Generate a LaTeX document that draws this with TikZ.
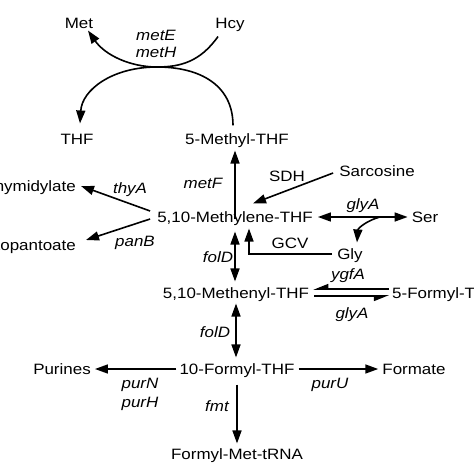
\documentclass[tikz,border=0pt]{standalone}
\usepackage{fontspec}
\setmainfont{Liberation Sans}[FakeStretch=1.13]
\usetikzlibrary{arrows.meta,calc}
\begin{document}
\begin{tikzpicture}[x=1pt,y=-1pt,
  lbl/.style={inner sep=0pt, text height=10.7pt, text depth=0pt, font=\fontsize{15}{18}\selectfont},
  enz/.style={lbl, font=\fontsize{15}{18}\selectfont\itshape},
  arr/.style={line width=1.6pt, -{Triangle[length=13pt,width=9pt]}},
  darr/.style={line width=1.6pt, {Triangle[length=13pt,width=9pt]}-{Triangle[length=13pt,width=9pt]}},
  harp/.style={line width=1.6pt, -{Triangle[length=13pt,width=10pt,harpoon,swap]}},
]
\useasboundingbox (0,0) rectangle (474,474);
\clip (0,0) rectangle (474,474);
\fill[white] (0,0) rectangle (474,474);

\node[lbl] (met) at (79,23) {Met};
\node[lbl] (hcy) at (230,23) {Hcy};
\node[enz] (metE) at (156,35) {metE};
\node[enz] (metH) at (156,52) {metH};
\node[lbl] (thf) at (77,139) {THF};
\node[lbl] (mthf) at (237,139) {5-Methyl-THF};
\node[lbl] (sarc) at (377,171) {Sarcosine};
\node[lbl] (sdh) at (287,176) {SDH};
\node[lbl,anchor=east] (thym) at (76,186) {Thymidylate};
\node[enz] (thyA) at (130,188) {thyA};
\node[enz] (metF) at (203,183) {metF};
\node[lbl] (mlene) at (235,217) {5,10-Methylene-THF};
\node[enz] (glyA1) at (363,204) {glyA};
\node[lbl] (ser) at (425,217) {Ser};
\node[lbl,anchor=east] (keto) at (76,245) {Ketopantoate};
\node[enz] (panB) at (135,241) {panB};
\node[lbl] (gcv) at (290,243) {GCV};
\node[lbl] (gly) at (350,254) {Gly};
\node[enz] (folD1) at (218,257) {folD};
\node[enz] (ygfA) at (348,274) {ygfA};
\node[lbl] (menyl) at (236,293) {5,10-Methenyl-THF};
\node[lbl,anchor=west] (fthf) at (392,293) {5-Formyl-THF};
\node[enz] (glyA2) at (352,313) {glyA};
\node[enz] (folD2) at (215,332) {folD};
\node[lbl] (tenf) at (237,369) {10-Formyl-THF};
\node[lbl] (pur) at (62,369) {Purines};
\node[lbl] (form) at (414,369) {Formate};
\node[enz] (purN) at (140,383) {purN};
\node[enz] (purH) at (140,402) {purH};
\node[enz] (purU) at (330,383) {purU};
\node[enz] (fmt) at (217,406) {fmt};
\node[lbl] (fmet) at (237,454) {Formyl-Met-tRNA};

% methionine synthase crossing arcs
\draw[arr] ([xshift=-12pt,yshift=-8pt]hcy.south) .. controls (200,62) and (180,67) .. (157,67)
   .. controls (130,67) and (105,55) .. ([xshift=9pt,yshift=-2pt]met.south);
\draw[arr] ([xshift=-4pt,yshift=8pt]mthf.north) .. controls (233,85) and (200,67) .. (157,67)
   .. controls (112,67) and (82,90) .. ([xshift=3pt,yshift=10pt]thf.north);

\draw[arr] ([yshift=-8pt]mlene.north) -- ([yshift=-6pt]mlene.north |- mthf.south);
\draw[arr] ([xshift=-6pt,yshift=-2pt]sarc.west) -- ([xshift=18pt,yshift=8pt]mlene.north);
\draw[arr] ([xshift=-7pt,yshift=6pt]mlene.west) -- ([xshift=5pt]thym.east);
\draw[arr] ([xshift=-7pt,yshift=-2pt]mlene.west) -- ([xshift=10pt,yshift=5pt]keto.east);
\draw[darr] ([xshift=5pt]mlene.east) -- ([xshift=-4pt]ser.west);
\coordinate (sb) at (380,217);
\draw[arr] (sb) .. controls (368,220) and (358,228) .. ([xshift=7pt,yshift=6pt]gly.north);
\draw[arr] ([xshift=-5pt]gly.west) -| ([xshift=14pt,yshift=-6pt]mlene.south);
\draw[darr] ([yshift=-9pt]mlene.south) -- ([yshift=6pt]mlene.south |- menyl.north);
\draw[harp] ([xshift=-3pt,yshift=4pt]fthf.west) -- ([xshift=4pt,yshift=4pt]menyl.east);
\draw[harp] ([xshift=5pt,yshift=-3pt]menyl.east) -- ([xshift=-3pt,yshift=-3pt]fthf.west);
\draw[darr] ([yshift=-5pt]menyl.south) -- ([yshift=6pt]menyl.south |- tenf.north);
\draw[arr] ([xshift=-3pt]tenf.west) -- ([xshift=4pt]pur.east);
\draw[arr] ([xshift=4pt]tenf.east) -- ([xshift=-4pt]form.west);
\draw[arr] ([yshift=-10pt]tenf.south) -- ([yshift=5pt]fmet.north);
\end{tikzpicture}
\end{document}
